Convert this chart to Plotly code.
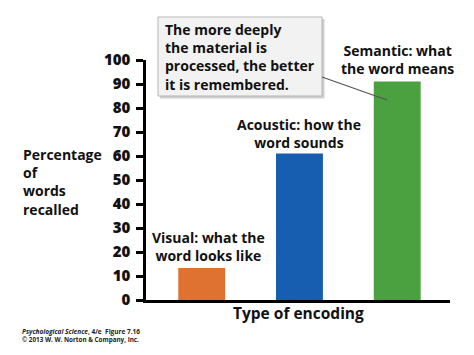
import plotly.graph_objects as go

categories = ["Visual", "Acoustic", "Semantic"]
values = [13.3, 61, 91]
label_heads = ["Visual:", "Acoustic:", "Semantic:"]
label_tails = [" what the<br>word looks like", " how the<br>word sounds", " what<br>the word means"]
colors = ["#e07231", "#175eb0", "#4ba13f"]
y_ticks = [0, 10, 20, 30, 40, 50, 60, 70, 80, 90, 100]

FONT = "Open Sans"

fig = go.Figure()
fig.add_trace(go.Bar(
    x=list(range(len(categories))), y=values,
    marker=dict(color=colors, line=dict(width=0)),
    width=0.48, hoverinfo="skip",
))

# px helpers for paper coords
L, R, T, B = 146, 450, 60, 300
def px(x):
    return (x - L) / (R - L)
def py(y):
    return (B - y) / (B - T)

annotations = []
label_y_px = [246, 133, 59]
label_xshift = [7, 0, 0]
for i, (h, t) in enumerate(zip(label_heads, label_tails)):
    annotations.append(dict(
        x=i, xref="x", y=py(label_y_px[i]), yref="paper",
        text=f"<b>{h}{t}</b>", showarrow=False, align="center",
        xanchor="center", yanchor="middle", xshift=label_xshift[i],
        font=dict(family=FONT, size=14, color="#111", weight=800),
    ))

# y-axis title
annotations.append(dict(
    x=px(21), y=py(182), xref="paper", yref="paper",
    text="<b>Percentage<br>of<br>words<br>recalled</b>", showarrow=False,
    align="left", xanchor="left", yanchor="middle",
    font=dict(family=FONT, size=14, color="#111", weight=800),
))
# x-axis title
annotations.append(dict(
    x=px(298), y=py(313), xref="paper", yref="paper",
    text="<b>Type of encoding</b>", showarrow=False,
    xanchor="center", yanchor="middle",
    font=dict(family=FONT, size=15.5, color="#111", weight=800),
))
# callout text
annotations.append(dict(
    x=px(163), y=py(57), xref="paper", yref="paper",
    text="<b>The more deeply<br>the material is<br>processed, the better<br>it is remembered.</b>",
    showarrow=False, align="left", xanchor="left", yanchor="middle",
    font=dict(family=FONT, size=14, color="#111", weight=800),
))
# footer
annotations.append(dict(
    x=px(20), y=py(331), xref="paper", yref="paper",
    text="<b><i>Psychological Science</i>, 4/e  Figure 7.16</b>", showarrow=False,
    xanchor="left", yanchor="middle", font=dict(family=FONT, size=6.5, color="#222"),
))
annotations.append(dict(
    x=px(20), y=py(339), xref="paper", yref="paper",
    text="<b>© 2013 W. W. Norton & Company, Inc.</b>", showarrow=False,
    xanchor="left", yanchor="middle", font=dict(family=FONT, size=6.3, color="#222"),
))

shapes = [
    # shadow
    dict(type="rect", xref="paper", yref="paper",
         x0=px(160), x1=px(324.5), y0=py(19), y1=py(98.5),
         fillcolor="#cfcfcf", line=dict(width=0), layer="above"),
    # box
    dict(type="rect", xref="paper", yref="paper",
         x0=px(158), x1=px(322), y0=py(17), y1=py(96),
         fillcolor="#f2f2f2", line=dict(color="#b5b5b5", width=1), layer="above"),
    # pointer line
    dict(type="line", xref="paper", yref="paper",
         x0=px(322), y0=py(77), x1=px(387), y1=py(100),
         line=dict(color="#555", width=1.2), layer="above"),
]

fig.update_layout(
    width=474, height=355,
    margin=dict(l=L, r=474 - R, t=T, b=355 - B),
    plot_bgcolor="white", paper_bgcolor="white",
    showlegend=False,
    annotations=annotations, shapes=shapes,
    xaxis=dict(range=[-0.57, 2.54], showticklabels=False, ticks="",
               showgrid=False, zeroline=False, showline=True,
               linecolor="black", linewidth=2.5, fixedrange=True),
    yaxis=dict(range=[0, 100], tickvals=y_ticks, ticks="outside", ticklen=7,
               tickwidth=2.5, tickcolor="black", showgrid=False, zeroline=False,
               showline=True, linecolor="black", linewidth=2.5,
               tickfont=dict(family=FONT, size=15, color="#111", weight=800),
               ticklabelstandoff=3, fixedrange=True),
)

fig.write_html("out.html")
